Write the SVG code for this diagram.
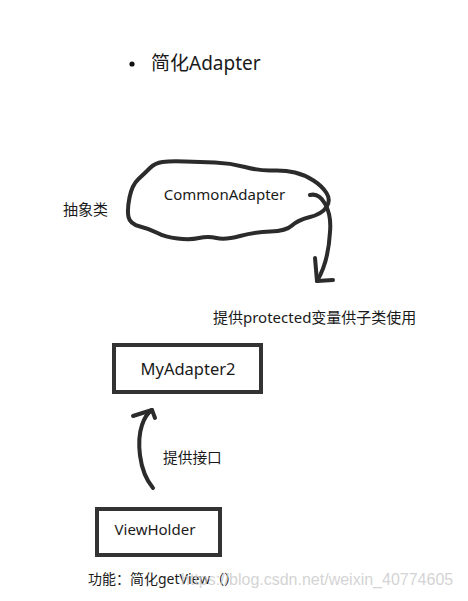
<svg xmlns="http://www.w3.org/2000/svg" width="468" height="601" viewBox="0 0 468 601">
<style>
.t{font-family:"Noto Sans","Noto Sans CJK SC",sans-serif;fill:#1a1a1a}
.ln{fill:none;stroke:#2b2b2b;stroke-width:4;stroke-linecap:round;stroke-linejoin:round}
.box{fill:#fff;stroke:#333;stroke-width:4}
</style>
<rect width="468" height="601" fill="#fff"/>
<g id="title">
<circle cx="132" cy="64" r="2.6" fill="#111"/>
<text class="t" x="151" y="70" font-size="19">简化Adapter</text>
</g>
<g id="commonadapter">
<path class="ln" d="M 129.5,197.5 Q 132,185 138.5,179 Q 145,173 150,168 Q 155,163 162.5,162 Q 170,161 185,161.5 Q 200,162 215,162.5 Q 230,163 245,167 Q 260,171 272.5,170.5 Q 285,170 295,172.5 Q 305,175 313.5,180.5 Q 322,186 326.5,193 Q 331,200 326.5,207 Q 322,214 310,217 Q 298,220 292,225.5 Q 286,231 270.5,231.5 Q 255,232 240,236 Q 225,240 216.5,238 Q 208,236 199,238 Q 190,240 177.5,238.5 Q 165,237 157.5,233 Q 150,229 140,226.5 Q 130,224 128.5,217 Q 127,210 129.5,197.5 Z"/>
<text class="t" x="224.5" y="200" font-size="15" text-anchor="middle">CommonAdapter</text>
</g>
<g id="label-abstract">
<text class="t" x="63" y="215" font-size="15">抽象类</text>
</g>
<g id="myadapter2">
<rect class="box" x="114" y="345" width="147" height="47"/>
<text class="t" x="188" y="375" font-size="16.5" text-anchor="middle">MyAdapter2</text>
</g>
<g id="viewholder">
<rect class="box" x="97" y="509" width="123" height="46"/>
<text class="t" x="155" y="535" font-size="15" text-anchor="middle">ViewHolder</text>
</g>
<g id="connectors">
<path class="ln" d="M 310,195 C 322,192 332,210 330,232 C 329,250 325,268 317,281"/>
<path class="ln" d="M 315,258 L 317,281 L 333,280"/>
<path class="ln" d="M 153,488 C 138,470 137,440 142,425 C 145,416 149,412 152,410"/>
<path class="ln" d="M 133,416 L 152,410 L 155,418"/>
</g>
<g id="labels">
<text class="t" x="213" y="323" font-size="15">提供protected变量供子类使用</text>
<text class="t" x="163" y="463" font-size="14.7">提供接口</text>
<text class="t" x="88" y="584" font-size="14">功能：简化getView（）</text>
</g>
<text x="181" y="585" font-family="Liberation Sans, Arial, sans-serif" font-size="16" fill="#c8c8c8" fill-opacity="0.8">https://blog.csdn.net/weixin_40774605</text>
</svg>
